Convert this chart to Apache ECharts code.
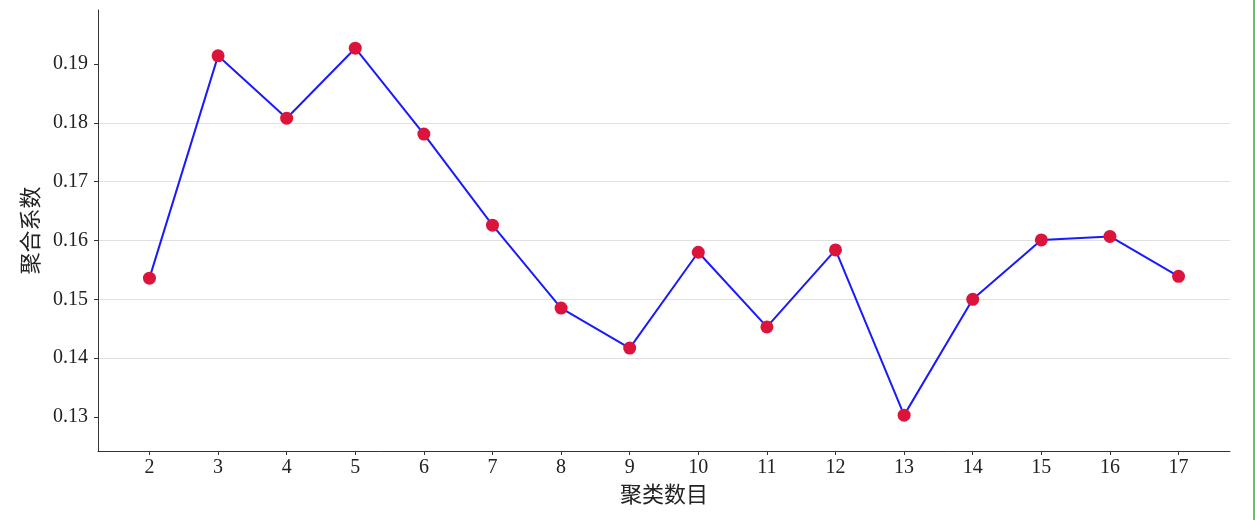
<!DOCTYPE html>
<html>
<head>
<meta charset="utf-8">
<script src="https://cdn.jsdelivr.net/npm/echarts@6/dist/echarts.min.js"></script>
<style>
  html, body { margin: 0; padding: 0; background: #fff; }
  #main { width: 1255px; height: 520px; }
</style>
</head>
<body>
<div id="main"></div>
<script>
// 聚类数目
const clusterCounts = [2, 3, 4, 5, 6, 7, 8, 9, 10, 11, 12, 13, 14, 15, 16, 17];
// 聚合系数
const coefficients = [0.1536, 0.1914, 0.1808, 0.1927, 0.1781, 0.1626, 0.1485, 0.1417,
                      0.1580, 0.1453, 0.1584, 0.1303, 0.1500, 0.1601, 0.1607, 0.1539];
// y 轴刻度
const yTicks = [0.13, 0.14, 0.15, 0.16, 0.17, 0.18, 0.19];

const chart = echarts.init(document.getElementById('main'));
const labelFont = 'Liberation Serif, DejaVu Serif, serif';
const cjkFont = 'Noto Sans CJK SC, sans-serif';

const option = {
  animation: false,
  grid: { left: 98, right: 25, top: 10, bottom: 69, outerBoundsMode: 'none', containLabel: false },
  xAxis: {
    type: 'value',
    min: 1.25,
    max: 17.75,
    name: '聚类数目',
    nameLocation: 'middle',
    nameGap: 32,
    nameTextStyle: { fontFamily: cjkFont, fontSize: 22, color: '#222' },
    axisLine: { show: true, lineStyle: { color: '#333', width: 1 } },
    axisTick: { show: true, customValues: clusterCounts, length: 4, lineStyle: { color: '#333' } },
    axisLabel: {
      customValues: clusterCounts,
      fontFamily: labelFont, fontSize: 20, color: '#222', margin: 7
    },
    splitLine: { show: false }
  },
  yAxis: {
    type: 'value',
    min: 0.1242,
    max: 0.1992,
    minInterval: 0.01,
    maxInterval: 0.01,
    name: '聚合系数',
    nameLocation: 'middle',
    nameGap: 57,
    nameRotate: 90,
    nameTextStyle: { fontFamily: cjkFont, fontSize: 22, color: '#222' },
    axisLine: { show: true, lineStyle: { color: '#333', width: 1 } },
    axisTick: { show: true, customValues: yTicks, length: 4, lineStyle: { color: '#333' } },
    axisLabel: {
      customValues: yTicks,
      fontFamily: labelFont, fontSize: 20, color: '#222', margin: 10,
      formatter: v => v.toFixed(2)
    },
    splitLine: { show: true, showMinLine: false, showMaxLine: false, lineStyle: { color: '#e0e0e0', width: 1 } }
  },
  series: [{
    type: 'line',
    data: clusterCounts.map((c, i) => [c, coefficients[i]]),
    lineStyle: { color: '#1a1aff', width: 2 },
    symbol: 'circle',
    symbolSize: 13,
    itemStyle: { color: '#dc143c' },
    z: 3
  }],
  graphic: [{
    type: 'rect',
    right: 0,
    top: 0,
    shape: { width: 2, height: 520 },
    style: { fill: '#5cc85c' }
  }]
};

option && chart.setOption(option);
</script>
</body>
</html>
